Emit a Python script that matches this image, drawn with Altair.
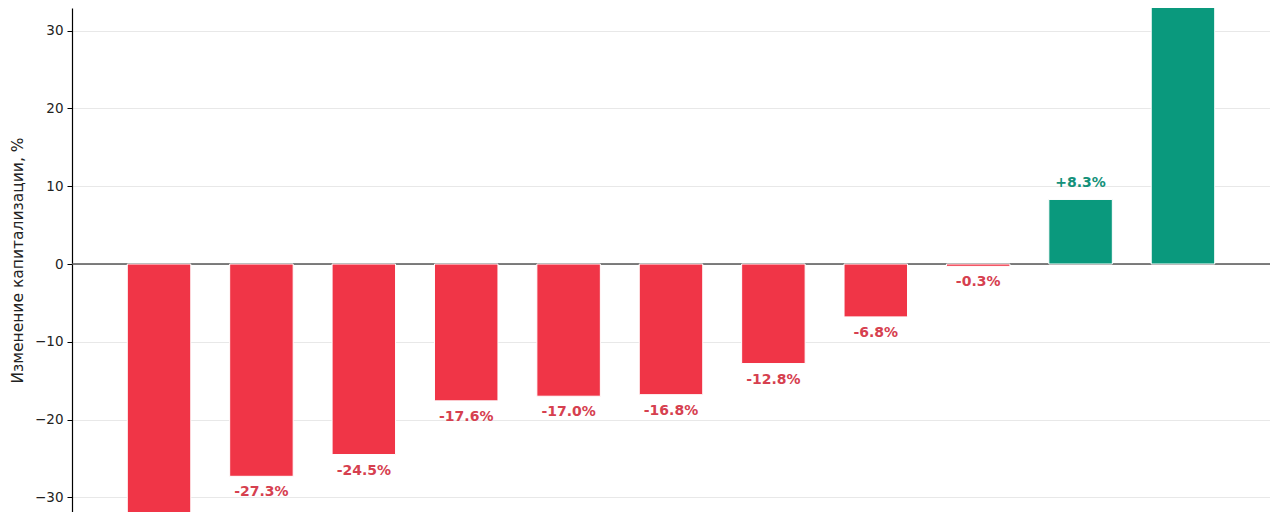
import altair as alt
import pandas as pd

categories = ["A01", "A02", "A03", "A04", "A05", "A06", "A07", "A08", "A09", "A10", "A11"]
values = [-35.0, -27.3, -24.5, -17.6, -17.0, -16.8, -12.8, -6.8, -0.3, 8.3, 33.0]

df = pd.DataFrame({"cat": categories, "val": values})
df["label"] = [("+%.1f%%" % v) if v > 0 else ("%.1f%%" % v) for v in values]
df["sign"] = ["pos" if v > 0 else "neg" for v in values]

FONT = "DejaVu Sans"
ydom = [-31.89, 32.92]

x = alt.X("cat:N", sort=categories, axis=None,
          scale=alt.Scale(paddingInner=0.38, paddingOuter=0.54))
y_axis = alt.Axis(values=[-30, -20, -10, 0, 10, 20, 30], format="d",
                  title="Изменение капитализации, %", titleFont=FONT,
                  titleFontSize=15.5, titleFontWeight="normal", titleColor="#222",
                  titlePadding=9, labelFont=FONT, labelFontSize=13.5,
                  labelColor="#222", labelPadding=4, domainColor="#000",
                  domainWidth=1.2, tickColor="#000", tickSize=5,
                  grid=True, gridColor="#e8e8e8", gridWidth=1)

base = alt.Chart(df)

bars = base.mark_bar(clip=True, stroke="white", strokeWidth=1.0).encode(
    x=x,
    y=alt.Y("val:Q", scale=alt.Scale(domain=ydom, nice=False, zero=False), axis=y_axis),
    color=alt.Color("sign:N", scale=alt.Scale(domain=["neg", "pos"],
                                               range=["#F03547", "#0A997D"]), legend=None),
)

zero = alt.Chart(pd.DataFrame({"z": [0]})).mark_rule(color="#555", strokeWidth=1.3).encode(
    y=alt.Y("z:Q", scale=alt.Scale(domain=ydom, nice=False, zero=False))
)

# labels of the first and last bars fall outside the visible plot area
neg_text = base.transform_filter("datum.val < 0 && datum.val > -30").mark_text(
    baseline="top", dy=9, font=FONT, fontSize=14, fontWeight="bold",
    color="#D6404F"
).encode(x=x, y="val:Q", text="label:N")

pos_text = base.transform_filter("datum.val > 0 && datum.val < 28").mark_text(
    baseline="bottom", dy=-9, font=FONT, fontSize=14, fontWeight="bold",
    color="#13917A"
).encode(x=x, y="val:Q", text="label:N")

chart = alt.layer(zero, bars, neg_text, pos_text).properties(
    width=1198, height=504,
    autosize=alt.AutoSizeParams(type="none"),
    padding={"left": 64, "top": 0, "right": 0, "bottom": 0},
).configure_view(stroke=None)

chart.save("out.html", embed_options={"renderer": "svg", "actions": False})
